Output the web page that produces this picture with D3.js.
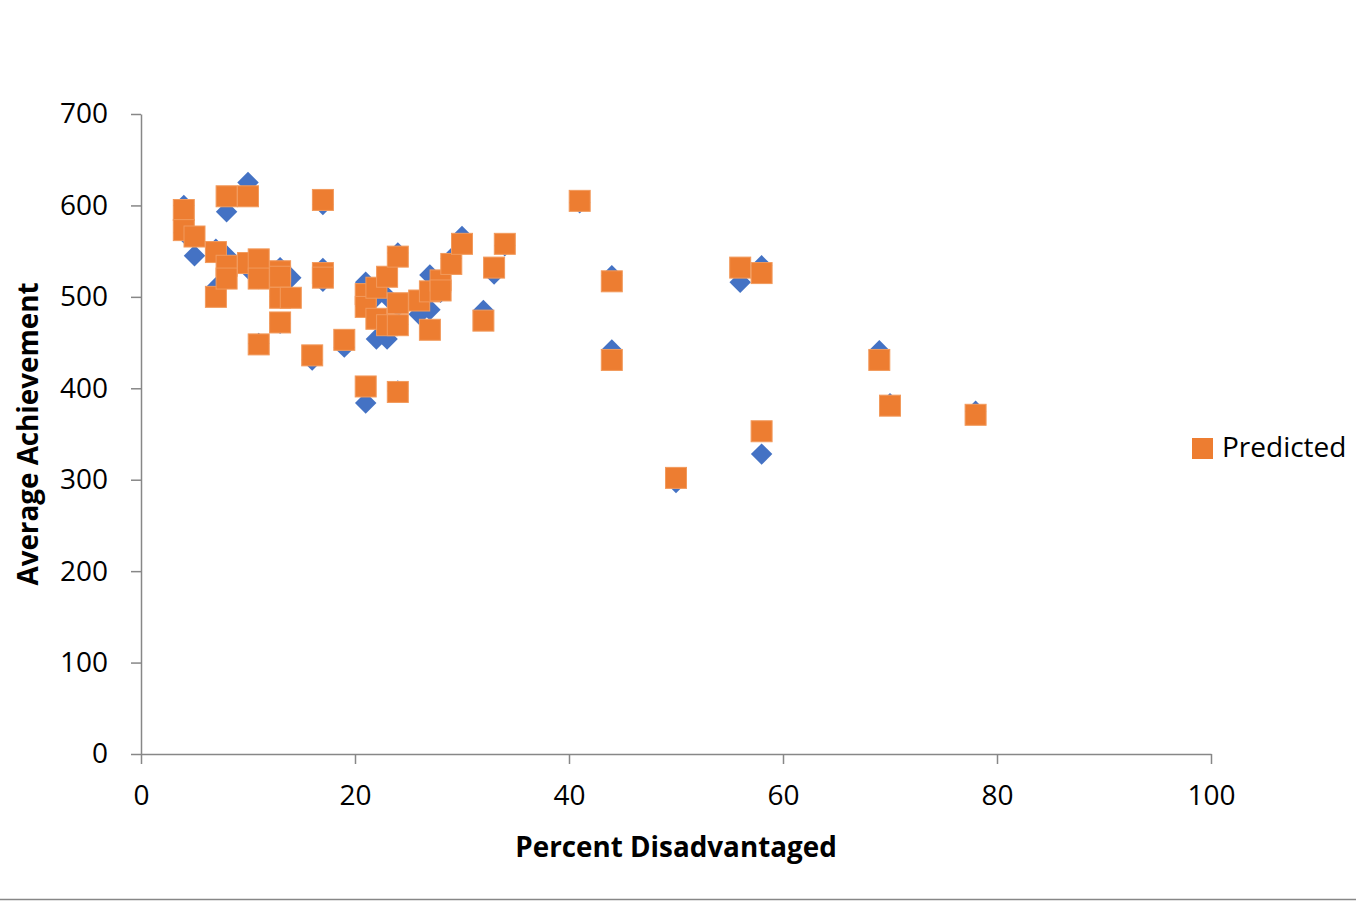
<!DOCTYPE html>
<html>
<head>
<meta charset="utf-8">
<script src="https://cdn.jsdelivr.net/npm/d3@7"></script>
<style>
    body { margin: 0; background: #fff; }
    svg { display: block; font-family: 'Open Sans', sans-serif; }
</style>
</head>
<body>
<svg class="scatter" width="1356" height="901"></svg>
<script>
// percent disadvantaged per school
const pctDisadvantaged = [
    4, 4, 5, 7, 7, 8, 8, 8, 10, 10,
    11, 11, 11, 13, 13, 13, 14, 13, 16, 17,
    17, 17, 19, 21, 21, 21, 22, 22, 23, 23,
    24, 24, 24, 24, 26, 27, 27, 28, 28, 29,
    30, 32, 33, 34, 41, 44, 44, 50, 56, 58,
    58, 69, 70, 78
];
// actual average achievement (blue diamonds)
const actual = [
    600, 570, 545, 552, 510, 593, 545, 525, 625, 531,
    528, 520, 449, 532, 522, 500, 521, 471, 431, 601,
    531, 517, 445, 384, 516, 490, 500, 454, 500, 454,
    548, 397, 490, 470, 481, 486, 524, 515, 505, 542,
    566, 485, 525, 556, 603, 523, 442, 297, 516, 534,
    328, 441, 383, 375
];
// predicted achievement (orange squares)
const predicted = [
    595, 573, 566, 549, 500, 610, 534, 520, 610, 537,
    541, 520, 448, 528, 522, 499, 499, 472, 436, 606,
    526, 521, 453, 402, 503, 489, 510, 476, 522, 469,
    544, 396, 493, 469, 496, 464, 506, 518, 507, 536,
    558, 474, 532, 558, 605, 517, 431, 302, 532, 526,
    353, 431, 381, 371
];
const xTicks = [0, 20, 40, 60, 80, 100];
const yTicks = [0, 100, 200, 300, 400, 500, 600, 700];

const data = pctDisadvantaged.map((p, i) => ({ pct: p, actual: actual[i], predicted: predicted[i] }));

const svg = d3.select('.scatter');
const width = +svg.attr('width');
const height = +svg.attr('height');

const margin = { top: 114, right: 145, bottom: 147, left: 141 };
const innerWidth = width - margin.left - margin.right;
const innerHeight = height - margin.top - margin.bottom;

const xScale = d3.scaleLinear().domain([0, 100]).range([0, innerWidth]);
const yScale = d3.scaleLinear().domain([0, 700]).range([innerHeight, 0]);

const axisColor = '#878787';
const blue = '#4472C4';
const orange = '#ED7D31';

const g = svg.append('g')
    .attr('transform', `translate(${margin.left}, ${margin.top})`);

// y axis
const yAxis = g.append('g')
    .call(d3.axisLeft(yScale)
        .tickValues(yTicks)
        .tickSize(10)
        .tickSizeOuter(0)
        .tickPadding(23));

// x axis
const xAxis = g.append('g')
    .attr('transform', `translate(0, ${innerHeight})`)
    .call(d3.axisBottom(xScale)
        .tickValues(xTicks)
        .tickSize(10)
        .tickSizeOuter(0)
        .tickPadding(21));

[xAxis, yAxis].forEach(ax => {
    ax.select('.domain').attr('stroke', axisColor).attr('stroke-width', 1.5);
    ax.selectAll('.tick line').attr('stroke', axisColor).attr('stroke-width', 1.5);
    ax.selectAll('.tick text')
        .attr('fill', '#000')
        .style('font-family', 'Open Sans')
        .style('font-size', '28px');
});

// actual values as diamonds
const diamond = d3.symbol().type(d3.symbolSquare).size(230);
g.append('g')
    .selectAll('path')
    .data(data)
    .join('path')
    .attr('d', diamond)
    .attr('transform', d => `translate(${xScale(d.pct)}, ${yScale(d.actual)}) rotate(45)`)
    .attr('fill', blue);

// predicted values as squares
const sq = 21;
g.append('g')
    .selectAll('rect')
    .data(data)
    .join('rect')
    .attr('x', d => xScale(d.pct) - sq / 2)
    .attr('y', d => yScale(d.predicted) - sq / 2)
    .attr('width', sq)
    .attr('height', sq)
    .attr('fill', orange)
    .attr('stroke', '#F29A5C')
    .attr('stroke-width', 1);

// axis titles
svg.append('text')
    .attr('x', margin.left + innerWidth / 2)
    .attr('y', 857)
    .attr('text-anchor', 'middle')
    .style('font-family', 'Open Sans')
    .style('font-weight', 'bold')
    .style('font-size', '27.8px')
    .text('Percent Disadvantaged');

svg.append('text')
    .attr('transform', `translate(38, ${margin.top + innerHeight / 2}) rotate(-90)`)
    .attr('text-anchor', 'middle')
    .style('font-family', 'Open Sans')
    .style('font-weight', 'bold')
    .style('font-size', '27.8px')
    .text('Average Achievement');

// legend (only the predicted series is listed)
const legend = svg.append('g')
    .attr('transform', 'translate(1192, 438)');
legend.append('rect')
    .attr('width', 21)
    .attr('height', 21)
    .attr('fill', orange);
legend.append('text')
    .attr('x', 30)
    .attr('y', 19)
    .style('font-family', 'Open Sans')
    .style('font-size', '28px')
    .text('Predicted');

// chart frame bottom edge
svg.append('line')
    .attr('x1', 0).attr('x2', width)
    .attr('y1', 899.5).attr('y2', 899.5)
    .attr('stroke', axisColor)
    .attr('stroke-width', 1.5);
</script>
</body>
</html>
